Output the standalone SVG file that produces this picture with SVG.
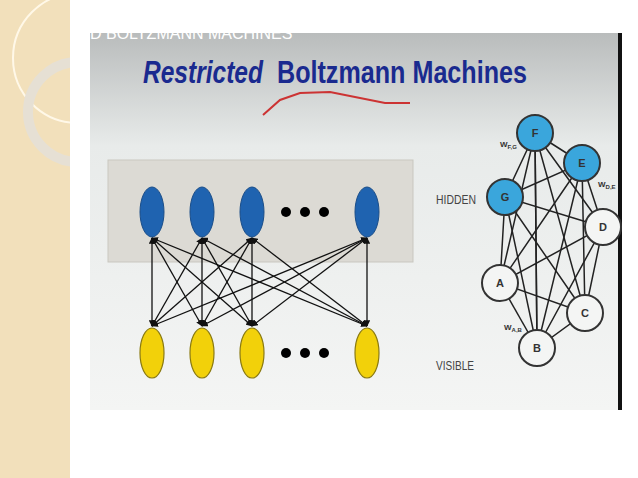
<svg xmlns="http://www.w3.org/2000/svg" width="638" height="478" viewBox="0 0 638 478">
<defs>
<linearGradient id="bg" x1="0" y1="0" x2="0" y2="1"><stop offset="0" stop-color="#b9bcbc"/><stop offset="0.3" stop-color="#e8ebea"/><stop offset="1" stop-color="#f4f5f4"/></linearGradient>
<marker id="ah" viewBox="0 0 10 10" refX="9" refY="5" markerWidth="5" markerHeight="5" orient="auto-start-reverse"><path d="M0,0L10,5L0,10z" fill="#111"/></marker>
<clipPath id="pc"><rect x="90" y="33" width="530" height="377"/></clipPath>
<clipPath id="lc"><rect x="0" y="0" width="70" height="478"/></clipPath>
</defs>
<style>
.r{stroke:#111;stroke-width:1.3;marker-start:url(#ah);marker-end:url(#ah)}
.e{stroke:#222;stroke-width:1.5;fill:none}
.h{fill:#1f63b0;stroke:#1a4d88;stroke-width:1}
.v{fill:#f2d10a;stroke:#8a7a10;stroke-width:1.2}
.n{stroke:#333;stroke-width:2}
.t{font-family:"Liberation Sans",sans-serif;font-size:11px;fill:#333;font-weight:bold}
.ti{font-family:"Liberation Sans",sans-serif;font-size:32px;font-weight:bold;fill:#1a2a8f}
</style>
<rect width="638" height="478" fill="#fff"/>
<rect width="70" height="478" fill="#f2e0bb"/>
<g clip-path="url(#lc)">
<circle cx="78" cy="58" r="65" fill="none" stroke="#fff8e8" stroke-width="2"/>
<circle cx="78" cy="112" r="50" fill="none" stroke="#e6e0d4" stroke-width="10"/>
</g>
<rect x="90" y="33" width="530" height="377" fill="url(#bg)"/>
<rect x="618" y="33" width="4" height="377" fill="#111"/>
<text x="90" y="39" clip-path="url(#pc)" font-family="Liberation Sans,sans-serif" font-size="16" fill="#fff">D BOLTZMANN MACHINES</text>
<text class="ti" x="143" y="83" font-style="italic" textLength="120" lengthAdjust="spacingAndGlyphs">Restricted</text>
<text class="ti" x="277" y="83" textLength="250" lengthAdjust="spacingAndGlyphs">Boltzmann Machines</text>
<path d="M263,115 L280,100 L300,93 L330,92 L360,98 L385,103 L410,103" fill="none" stroke="#c33" stroke-width="2"/>
<rect x="108" y="160" width="305" height="102" fill="#dcdad4" stroke="#c9c7c0"/>
<g id="connectors">
<g class="r">
<line x1="152" y1="238" x2="152" y2="326"/><line x1="152" y1="238" x2="202" y2="326"/><line x1="152" y1="238" x2="252" y2="326"/><line x1="152" y1="238" x2="367" y2="326"/>
<line x1="202" y1="238" x2="152" y2="326"/><line x1="202" y1="238" x2="202" y2="326"/><line x1="202" y1="238" x2="252" y2="326"/><line x1="202" y1="238" x2="367" y2="326"/>
<line x1="252" y1="238" x2="152" y2="326"/><line x1="252" y1="238" x2="202" y2="326"/><line x1="252" y1="238" x2="252" y2="326"/><line x1="252" y1="238" x2="367" y2="326"/>
<line x1="367" y1="238" x2="152" y2="326"/><line x1="367" y1="238" x2="202" y2="326"/><line x1="367" y1="238" x2="252" y2="326"/><line x1="367" y1="238" x2="367" y2="326"/>
</g>
<g class="e">
<path d="M535,133L582,163L505,197L603,227L500,283L585,313L537,348Z"/>
<path d="M535,133L505,197M535,133L603,227M535,133L500,283M535,133L585,313M535,133L537,348"/>
<path d="M582,163L603,227M582,163L500,283M582,163L585,313M582,163L537,348"/>
<path d="M505,197L500,283M505,197L585,313M505,197L537,348"/>
<path d="M603,227L585,313M603,227L537,348"/>
<path d="M500,283L537,348"/>
</g>
</g>
<g id="hidden">
<ellipse class="h" cx="152" cy="212" rx="12" ry="25"/><ellipse class="h" cx="202" cy="212" rx="12" ry="25"/><ellipse class="h" cx="252" cy="212" rx="12" ry="25"/><ellipse class="h" cx="367" cy="212" rx="12" ry="25"/>
<circle cx="286" cy="212" r="5"/><circle cx="305" cy="212" r="5"/><circle cx="324" cy="212" r="5"/>
</g>
<g id="visible">
<ellipse class="v" cx="152" cy="353" rx="12" ry="25"/><ellipse class="v" cx="202" cy="353" rx="12" ry="25"/><ellipse class="v" cx="252" cy="353" rx="12" ry="25"/><ellipse class="v" cx="367" cy="353" rx="12" ry="25"/>
<circle cx="286" cy="353" r="5"/><circle cx="305" cy="353" r="5"/><circle cx="324" cy="353" r="5"/>
</g>
<text x="436" y="204" font-family="Liberation Sans,sans-serif" font-size="12" fill="#444" textLength="40" lengthAdjust="spacingAndGlyphs">HIDDEN</text>
<text x="436" y="370" font-family="Liberation Sans,sans-serif" font-size="12" fill="#444" textLength="38" lengthAdjust="spacingAndGlyphs">VISIBLE</text>
<g id="F"><circle class="n" cx="535" cy="133" r="18" fill="#3aa6dc"/><text class="t" x="535" y="137" text-anchor="middle">F</text></g>
<g id="E"><circle class="n" cx="582" cy="163" r="18" fill="#3aa6dc"/><text class="t" x="582" y="167" text-anchor="middle">E</text></g>
<g id="G"><circle class="n" cx="505" cy="197" r="18" fill="#3aa6dc"/><text class="t" x="505" y="201" text-anchor="middle">G</text></g>
<g id="D"><circle class="n" cx="603" cy="227" r="18" fill="#f4f5f4"/><text class="t" x="603" y="231" text-anchor="middle">D</text></g>
<g id="A"><circle class="n" cx="500" cy="283" r="18" fill="#f4f5f4"/><text class="t" x="500" y="287" text-anchor="middle">A</text></g>
<g id="C"><circle class="n" cx="585" cy="313" r="18" fill="#f4f5f4"/><text class="t" x="585" y="317" text-anchor="middle">C</text></g>
<g id="B"><circle class="n" cx="537" cy="348" r="18" fill="#f4f5f4"/><text class="t" x="537" y="352" text-anchor="middle">B</text></g>
<text x="500" y="147" font-family="Liberation Sans,sans-serif" font-size="8" font-weight="bold" fill="#333">W<tspan font-size="6" dy="2">F,G</tspan></text>
<text x="598" y="187" font-family="Liberation Sans,sans-serif" font-size="8" font-weight="bold" fill="#333">W<tspan font-size="6" dy="2">D,E</tspan></text>
<text x="504" y="330" font-family="Liberation Sans,sans-serif" font-size="8" font-weight="bold" fill="#333">W<tspan font-size="6" dy="2">A,B</tspan></text>
</svg>
